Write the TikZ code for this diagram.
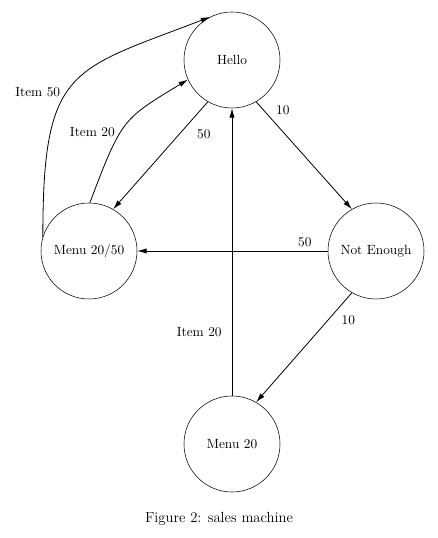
\documentclass[tikz,border=0pt]{standalone}
\usetikzlibrary{arrows.meta}

\begin{document}
\begin{tikzpicture}[
            x=0.75pt, y=0.75pt,
            state/.style={draw, circle, minimum size=72pt, inner sep=0pt, line width=0.4pt},
            trans/.style={-{Latex[length=7pt,width=4pt]}, line width=0.6pt},
            lbl/.style={inner sep=2pt}
        ]
        \useasboundingbox (0,0) rectangle (438,538);

        \node[state] (hello) at (232,478) {Hello};
        \node[state] (menuboth) at (89,287) {Menu 20/50};
        \node[state] (notenough) at (376,287) {Not Enough};
        \node[state] (menutwenty) at (232,94) {Menu 20};

        \node[font=\fontsize{11}{13}\selectfont] (caption) at (219,19) {Figure 2: sales machine};

        \draw[trans] (menuboth.163) .. controls +(90:170) and +(201:150) .. node[lbl, pos=0.45, left=3pt] {Item 50} (hello.117);
        \draw[trans] (menuboth.89) .. controls +(32,84) and +(-66,-40) .. node[lbl, pos=0.42, left=2pt] {Item 20} (hello.204);
        \draw[trans] (hello.240) -- node[lbl, pos=0.3, right=11pt] {50} (menuboth.60);
        \draw[trans] (hello.300) -- node[lbl, pos=0.08, right=7pt] {10} (notenough.120);
        \draw[trans] (notenough.west) -- node[lbl, pos=0.12, above=1pt] {50} (menuboth.east);
        \draw[trans] (notenough.240) -- node[lbl, pos=0.25, right=8pt] {10} (menutwenty.60);
        \draw[trans] (menutwenty.north) -- node[lbl, pos=0.22, left=5.5pt] {Item 20} (hello.south);
    \end{tikzpicture}
\end{document}
